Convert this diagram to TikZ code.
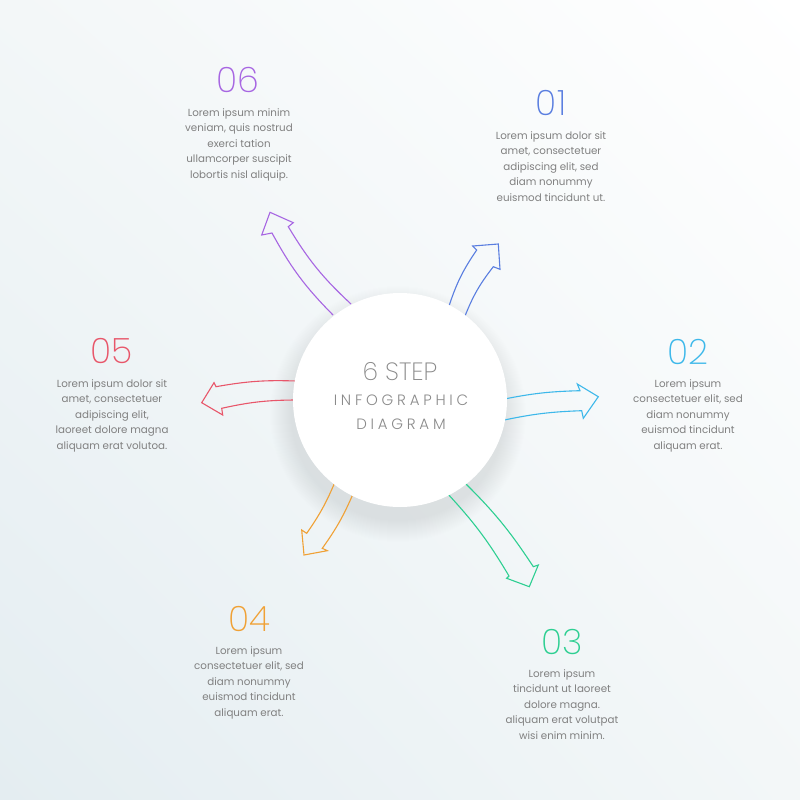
\documentclass[tikz,border=0pt]{standalone}
\usepackage{fontspec}
\usetikzlibrary{shadings}
\setmainfont{Poppins}
\newfontfamily\lightfont{Poppins Light}
\newfontfamily\xlightfont{Poppins ExtraLight}
\definecolor{bgA}{HTML}{E4EDF1}
\definecolor{bgM}{HTML}{F3F7F8}
\definecolor{bodygray}{HTML}{808080}
\definecolor{cgray}{HTML}{8A8A8A}
\definecolor{cA}{HTML}{5A7EE0}
\definecolor{cB}{HTML}{3DB8EA}
\definecolor{cC}{HTML}{2ECF92}
\definecolor{cD}{HTML}{F0A135}
\definecolor{cE}{HTML}{E8566A}
\definecolor{cF}{HTML}{A766E2}
\begin{document}
\begin{tikzpicture}[x=1pt,y=-1pt,
  arr/.style={line width=1.1pt, line join=miter},
  num/.style={font=\xlightfont\fontsize{35}{35}\selectfont, anchor=center, inner sep=0},
  body/.style={font=\fontsize{10.3}{15.5}\selectfont, text=bodygray, align=center, anchor=north, inner sep=0},
  ctext/.style={text=cgray, inner sep=0, anchor=center}]
\useasboundingbox (0,0) rectangle (800,800);
\shade[lower left=bgA, upper right=white, upper left=bgM, lower right=bgM] (0,0) rectangle (800,800);
% shadow
\foreach \r in {107,...,128}{\fill[black, opacity=0.0045] (398,414) circle (\r);}
% arrows
\draw[arr, cF] (333,315) to[bend left=8] (272,233) -- (261.7,235) -- (270,212.3) -- (293.3,222.7) -- (288.3,226.7) to[bend right=8] (351,304);
\draw[arr, cA] (449,306) to[bend left=8] (476.7,250) -- (472.7,246) -- (498.3,244) -- (500,269.3) -- (493.3,266.7) to[bend right=8] (465,316);
\draw[arr, cE] (296,381) to[bend right=6] (216,386.7) -- (214,382.7) -- (201.7,402.7) -- (222.7,415) -- (221.7,408.3) to[bend left=6] (295,400);
\draw[arr, cB] (502,399.5) to[bend left=5] (580,390.7) -- (577.3,384) -- (598.3,396.7) -- (583.3,418.3) -- (581.7,410.7) to[bend right=5] (502,420.5);
\draw[arr, cD] (335,482) to[bend left=6] (306.7,533.3) -- (301.7,530) -- (304,555) -- (327.3,550.7) -- (322.3,548.3) to[bend right=6] (353,494);
\draw[arr, cC] (447,493) to[bend left=6] (509,576) -- (506.7,578.3) -- (529.3,586.7) -- (538.3,565) -- (533.3,566.7) to[bend right=6] (464,482);
% circle
\node[circle, fill=white, minimum size=214pt, inner sep=0] (hub) at (400,400) {};
\node[ctext, font=\xlightfont\fontsize{25}{25}\selectfont] (t1) at (400,372) {6 STEP};
\node[ctext, font=\lightfont\fontsize{15}{15}\selectfont\addfontfeature{LetterSpace=25}] (t2) at (401,400) {INFOGRAPHIC};
\node[ctext, font=\lightfont\fontsize{15}{15}\selectfont\addfontfeature{LetterSpace=25}] (t3) at (401,424) {DIAGRAM};
% step 06
\node[num, text=cF] (n6) at (238,79.5) {06};
\node[body] (b6) at (239,108) {Lorem ipsum minim\\veniam, quis nostrud\\exerci tation\\ullamcorper suscipit\\lobortis nisl aliquip.};
% step 01
\node[num, text=cA] (n1) at (551,103.5) {01};
\node[body] (b1) at (551,131) {Lorem ipsum dolor sit\\amet, consectetuer\\adipiscing elit, sed\\diam nonummy\\euismod tincidunt ut.};
% step 02
\node[num, text=cB] (n2) at (688,351.5) {02};
\node[body] (b2) at (688,379) {Lorem ipsum\\consectetuer elit, sed\\diam nonummy\\euismod tincidunt\\aliquam erat.};
% step 05
\node[num, text=cE] (n5) at (112,351.5) {05};
\node[body] (b5) at (112,379) {Lorem ipsum dolor sit\\amet, consectetuer\\adipiscing elit,\\laoreet dolore magna\\aliquam erat volutoa.};
% step 04
\node[num, text=cD] (n4) at (249,618.5) {04};
\node[body] (b4) at (249,646) {Lorem ipsum\\consectetuer elit, sed\\diam nonummy\\euismod tincidunt\\aliquam erat.};
% step 03
\node[num, text=cC] (n3) at (562,641.5) {03};
\node[body] (b3) at (562,669) {Lorem ipsum\\tincidunt ut laoreet\\dolore magna.\\aliquam erat volutpat\\wisi enim minim.};
\end{tikzpicture}
\end{document}
